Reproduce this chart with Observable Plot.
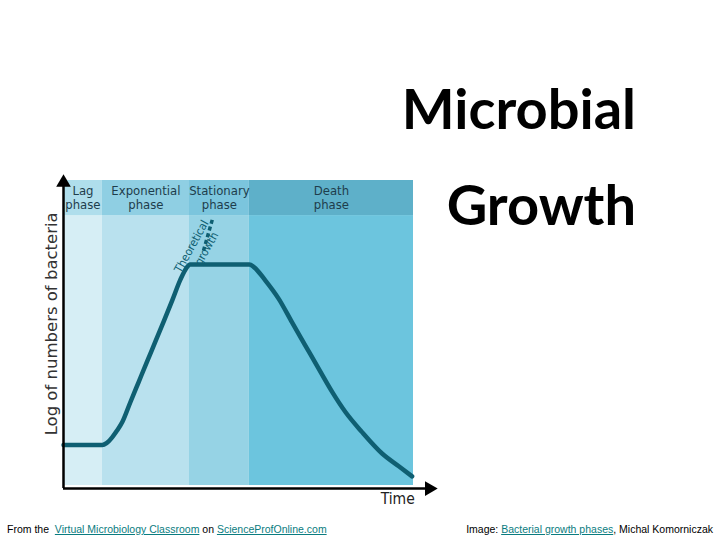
<!DOCTYPE html>
<html>
<head>
<meta charset="utf-8">
<script src="https://cdn.jsdelivr.net/npm/d3@7"></script>
<script src="https://cdn.jsdelivr.net/npm/@observablehq/plot@0.6"></script>
<style>
  html, body { margin: 0; padding: 0; background: #fff; }
  #wrap { position: relative; width: 720px; height: 540px; overflow: hidden; background: #fff; }
  #chart { position: absolute; left: 0; top: 0; }
  .title { position: absolute; right: 84px; font-family: Lato, "Open Sans", sans-serif; font-weight: 700; font-size: 56px; color: #000; line-height: 1; white-space: nowrap; }
  .foot { position: absolute; top: 523px; font-family: "Liberation Sans", sans-serif; font-size: 10.5px; color: #000; white-space: nowrap; }
  .foot a { color: #0a7c80; text-decoration: underline; }
</style>
</head>
<body>
<div id="wrap">
  <div id="chart"></div>
  <div class="title" style="top:80px">Microbial</div>
  <div class="title" style="top:176px">Growth</div>
  <div class="foot" style="left:7px">From the&nbsp; <a>Virtual Microbiology Classroom</a> on <a>ScienceProfOnline.com</a></div>
  <div class="foot" style="right:7px">Image: <a>Bacterial growth phases</a>, Michal Komorniczak</div>
</div>
<script>
// Phases
const phaseLabels = ["Lag\nphase", "Exponential\nphase", "Stationary\nphase", "Death\nphase"];
const phaseStart = [0, 11.1, 36, 53.1];
const phaseEnd = [11.1, 36, 53.1, 100];
const phaseBodyColor = ["#d6eef5", "#b9e1ee", "#96d3e5", "#6cc5de"];
const phaseHeaderColor = ["#afdeec", "#8fcfe3", "#7bc5dd", "#5eb0c9"];
const headerBottom = 88.5;
const headerTop = 100;
const headerLabelY = 94.4;

// Growth curve (time, log of numbers of bacteria)
const curveTime = [0, 11.06, 12.3, 13.9, 15.3, 16.8, 19.1, 21.5, 23.9, 26.3, 28.7, 31.1, 33.4, 35.3, 36.1, 53.1, 54.4, 57.7, 61.5, 65.3, 69.1, 72.9, 76.8, 80.6, 85.3, 91.1, 95.8, 99.6];
const curveLog  = [13.3, 13.3, 13.9, 15.8, 18.0, 20.8, 27.3, 34.0, 40.7, 47.3, 54.0, 60.8, 67.5, 71.6, 72.5, 72.5, 71.6, 67.2, 61.2, 53.5, 45.9, 38.3, 30.6, 24.0, 17.5, 10.4, 6.3, 3.0];

// Theoretical growth (dashed extension)
const theoTime = [40.0, 42.6];
const theoLog = [77.0, 87.5];
const theoLabels = ["Theoretical", "growth"];
const theoLabelTime = [36.6, 40.9];
const theoLabelLog = [78.4, 77.6];

// Axes
const axisOrigin = [0, -1];
const xAxisEnd = 104.5;
const yAxisEnd = 99.3;
const yLabel = "Log of numbers of bacteria";
const xLabel = "Time";

const phases = phaseLabels.map((label, i) => ({
  label, start: phaseStart[i], end: phaseEnd[i], mid: (phaseStart[i] + phaseEnd[i]) / 2,
  body: phaseBodyColor[i], header: phaseHeaderColor[i]
}));
const curve = curveTime.map((t, i) => ({t, v: curveLog[i]}));
const theo = theoTime.map((t, i) => ({t, v: theoLog[i]}));
const theoText = theoLabels.map((s, i) => ({s, t: theoLabelTime[i], v: theoLabelLog[i]}));

const condensed = '"Liberation Sans Narrow", "DejaVu Sans Condensed", sans-serif';
const lineColor = "#0f5f72";

const chart = Plot.plot({
  width: 720,
  height: 540,
  marginLeft: 63,
  marginRight: 307,
  marginTop: 180,
  marginBottom: 55,
  x: {domain: [0, 100], axis: null},
  y: {domain: [0, 100], axis: null},
  color: {type: "identity"},
  style: {background: "transparent", fontFamily: condensed},
  marks: [
    Plot.rect(phases, {x1: "start", x2: "end", y1: 0, y2: headerBottom, fill: "body"}),
    Plot.rect(phases, {x1: "start", x2: "end", y1: headerBottom, y2: headerTop, fill: "header"}),
    Plot.text(phases, {x: "mid", y: headerLabelY, text: "label", fontSize: 13, lineHeight: 1.05, fill: "#1e3d4c"}),
    Plot.line(theo, {x: "t", y: "v", stroke: lineColor, strokeWidth: 3.5, strokeDasharray: "4,3", strokeLinecap: "butt"}),
    Plot.text(theoText, {x: "t", y: "v", text: "s", rotate: -61, fontSize: 11.5, fill: lineColor}),
    Plot.line(curve, {x: "t", y: "v", stroke: lineColor, strokeWidth: 4.5, curve: "monotone-x", strokeLinejoin: "round"}),
    Plot.ruleX([axisOrigin[0]], {y1: axisOrigin[1], y2: yAxisEnd - 1, stroke: "#000", strokeWidth: 2.5}),
    Plot.ruleY([axisOrigin[1]], {x1: axisOrigin[0], x2: xAxisEnd - 1, stroke: "#000", strokeWidth: 2.5}),
    Plot.dot([{x: axisOrigin[0], y: yAxisEnd}], {x: "x", y: "y", symbol: "triangle2", r: 7, fill: "#000", rotate: 0}),
    Plot.dot([{x: xAxisEnd, y: axisOrigin[1]}], {x: "x", y: "y", symbol: "triangle2", r: 7, fill: "#000", rotate: 90}),
    Plot.text([yLabel], {x: -3.4, y: 53, text: d => d, rotate: -90, fontSize: 16.5, fill: "#333", fontFamily: '"DejaVu Sans", sans-serif'}),
    Plot.text([xLabel], {x: 95.5, y: -4.6, text: d => d, fontSize: 15.5, fill: "#222"})
  ]
});
document.getElementById("chart").appendChild(chart);
</script>
</body>
</html>
